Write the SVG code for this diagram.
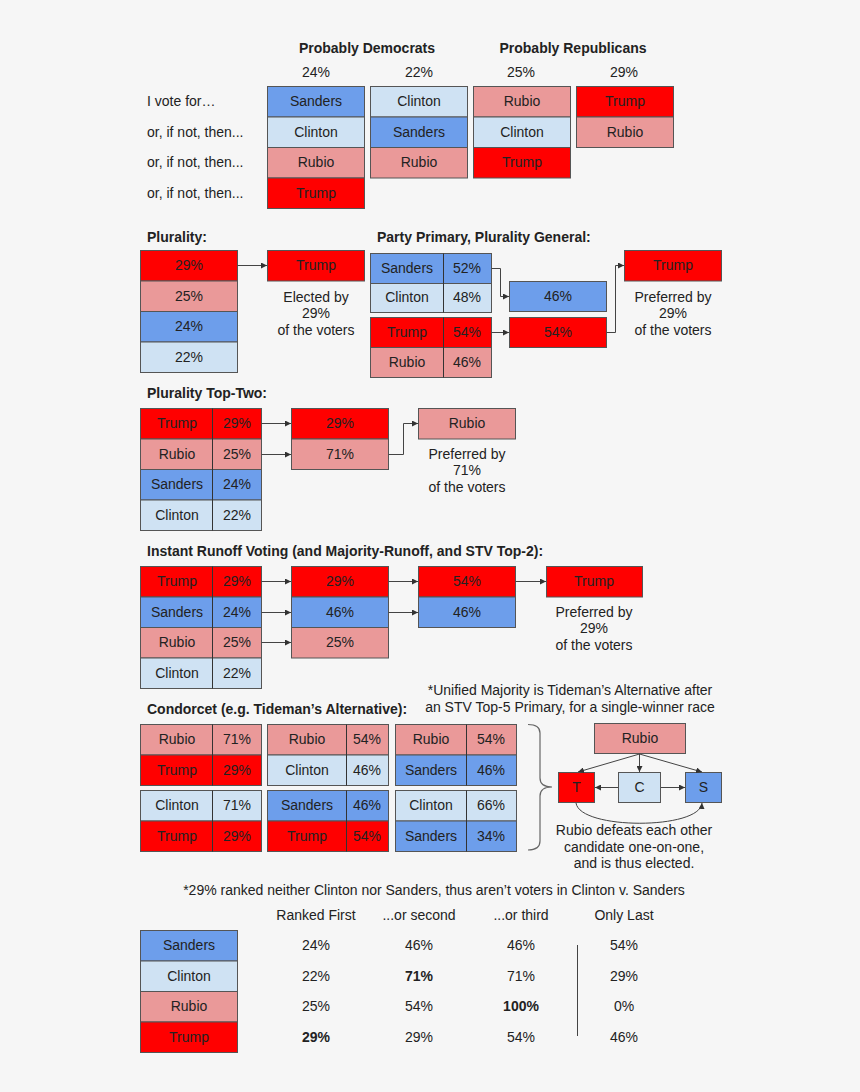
<svg xmlns="http://www.w3.org/2000/svg" width="860" height="1092" viewBox="0 0 860 1092">
<defs>
<marker id="ah" markerWidth="6" markerHeight="6" refX="6" refY="3" orient="auto" markerUnits="userSpaceOnUse"><path d="M0,0 L6,3 L0,6 z" fill="#333"/></marker>
<style>
text{font-family:"Liberation Sans",Arial,sans-serif;font-size:14px;fill:#222;}
.m{text-anchor:middle;}
.b{font-weight:bold;}
rect{stroke:#555;stroke-width:1;}
.S{fill:#6d9eeb;}
.C{fill:#cfe2f3;}
.R{fill:#ea9999;}
.T{fill:#ff0000;}
.dv{stroke:#333;stroke-width:1;}
.cn{fill:none;stroke:#444;stroke-width:1;marker-end:url(#ah);}
</style>
</defs>
<rect x="0" y="0" width="860" height="1092" fill="#f6f6f6" style="stroke:none"/>

<g id="ballots">
<text class="m b" x="367" y="53">Probably Democrats</text>
<text class="m b" x="573" y="53">Probably Republicans</text>
<text class="m" x="316" y="77">24%</text>
<text class="m" x="419" y="77">22%</text>
<text class="m" x="521" y="77">25%</text>
<text class="m" x="624" y="77">29%</text>
<text x="147" y="106">I vote for…</text>
<text x="147" y="137">or, if not, then...</text>
<text x="147" y="167">or, if not, then...</text>
<text x="147" y="198">or, if not, then...</text>
<g id="ballot1">
<rect class="S" x="267.5" y="86.5" width="97" height="30.5"/><text class="m" x="316" y="106">Sanders</text>
<rect class="C" x="267.5" y="117" width="97" height="30.5"/><text class="m" x="316" y="137">Clinton</text>
<rect class="R" x="267.5" y="147.5" width="97" height="30.5"/><text class="m" x="316" y="167">Rubio</text>
<rect class="T" x="267.5" y="178" width="97" height="30.5"/><text class="m" x="316" y="198">Trump</text>
</g>
<g id="ballot2">
<rect class="C" x="370.5" y="86.5" width="97" height="30.5"/><text class="m" x="419" y="106">Clinton</text>
<rect class="S" x="370.5" y="117" width="97" height="30.5"/><text class="m" x="419" y="137">Sanders</text>
<rect class="R" x="370.5" y="147.5" width="97" height="30.5"/><text class="m" x="419" y="167">Rubio</text>
</g>
<g id="ballot3">
<rect class="R" x="473.5" y="86.5" width="97" height="30.5"/><text class="m" x="522" y="106">Rubio</text>
<rect class="C" x="473.5" y="117" width="97" height="30.5"/><text class="m" x="522" y="137">Clinton</text>
<rect class="T" x="473.5" y="147.5" width="97" height="30.5"/><text class="m" x="522" y="167">Trump</text>
</g>
<g id="ballot4">
<rect class="T" x="576.5" y="86.5" width="97" height="30.5"/><text class="m" x="625" y="106">Trump</text>
<rect class="R" x="576.5" y="117" width="97" height="30.5"/><text class="m" x="625" y="137">Rubio</text>
</g>
</g>

<g id="plurality">
<text class="b" x="147" y="242">Plurality:</text>
<g id="pl-table">
<rect class="T" x="140.5" y="250.5" width="97" height="30.5"/><text class="m" x="189" y="270">29%</text>
<rect class="R" x="140.5" y="281" width="97" height="30.5"/><text class="m" x="189" y="301">25%</text>
<rect class="S" x="140.5" y="311.5" width="97" height="30.5"/><text class="m" x="189" y="331">24%</text>
<rect class="C" x="140.5" y="342" width="97" height="30.5"/><text class="m" x="189" y="362">22%</text>
</g>
<g id="pl-winner">
<rect class="T" x="267.5" y="250.5" width="97" height="30.5"/><text class="m" x="316" y="270">Trump</text>
<text class="m" x="316" y="302">Elected by</text>
<text class="m" x="316" y="318">29%</text>
<text class="m" x="316" y="335">of the voters</text>
</g>
</g>

<g id="primary">
<text class="b" x="377" y="242">Party Primary, Plurality General:</text>
<g id="pp-dem">
<rect class="S" x="370.5" y="253.5" width="121" height="30"/>
<rect class="C" x="370.5" y="283.5" width="121" height="29"/>
<line class="dv" x1="443.5" y1="253.5" x2="443.5" y2="312.5"/>
<text class="m" x="407" y="273">Sanders</text><text class="m" x="467" y="273">52%</text>
<text class="m" x="407" y="302">Clinton</text><text class="m" x="467" y="302">48%</text>
</g>
<g id="pp-rep">
<rect class="T" x="370.5" y="317.5" width="121" height="30"/>
<rect class="R" x="370.5" y="347.5" width="121" height="30"/>
<line class="dv" x1="443.5" y1="317.5" x2="443.5" y2="377.5"/>
<text class="m" x="407" y="337">Trump</text><text class="m" x="467" y="337">54%</text>
<text class="m" x="407" y="367">Rubio</text><text class="m" x="467" y="367">46%</text>
</g>
<g id="pp-gen-s">
<rect class="S" x="509.5" y="281.5" width="97" height="30"/><text class="m" x="558" y="301">46%</text>
</g>
<g id="pp-gen-t">
<rect class="T" x="509.5" y="317.5" width="97" height="30"/><text class="m" x="558" y="337">54%</text>
</g>
<g id="pp-winner">
<rect class="T" x="624.5" y="250.5" width="97" height="30.5"/><text class="m" x="673" y="270">Trump</text>
<text class="m" x="673" y="302">Preferred by</text>
<text class="m" x="673" y="318">29%</text>
<text class="m" x="673" y="335">of the voters</text>
</g>
</g>

<g id="toptwo">
<text class="b" x="147" y="398">Plurality Top-Two:</text>
<g id="tt-table">
<rect class="T" x="140.5" y="408.5" width="121" height="30.5"/>
<rect class="R" x="140.5" y="439" width="121" height="30.5"/>
<rect class="S" x="140.5" y="469.5" width="121" height="30.5"/>
<rect class="C" x="140.5" y="500" width="121" height="30.5"/>
<line class="dv" x1="212.5" y1="408.5" x2="212.5" y2="530.5"/>
<text class="m" x="177" y="428">Trump</text><text class="m" x="237" y="428">29%</text>
<text class="m" x="177" y="459">Rubio</text><text class="m" x="237" y="459">25%</text>
<text class="m" x="177" y="489">Sanders</text><text class="m" x="237" y="489">24%</text>
<text class="m" x="177" y="520">Clinton</text><text class="m" x="237" y="520">22%</text>
</g>
<g id="tt-round2">
<rect class="T" x="291.5" y="408.5" width="97" height="30.5"/><text class="m" x="340" y="428">29%</text>
<rect class="R" x="291.5" y="439" width="97" height="30.5"/><text class="m" x="340" y="459">71%</text>
</g>
<g id="tt-winner">
<rect class="R" x="418.5" y="408.5" width="97" height="30.5"/><text class="m" x="467" y="428">Rubio</text>
<text class="m" x="467" y="459">Preferred by</text>
<text class="m" x="467" y="475">71%</text>
<text class="m" x="467" y="492">of the voters</text>
</g>
</g>

<g id="irv">
<text class="b" x="147" y="556">Instant Runoff Voting (and Majority-Runoff, and STV Top-2):</text>
<g id="irv-table">
<rect class="T" x="140.5" y="566.5" width="121" height="30.5"/>
<rect class="S" x="140.5" y="597" width="121" height="30.5"/>
<rect class="R" x="140.5" y="627.5" width="121" height="30.5"/>
<rect class="C" x="140.5" y="658" width="121" height="30.5"/>
<line class="dv" x1="212.5" y1="566.5" x2="212.5" y2="688.5"/>
<text class="m" x="177" y="586">Trump</text><text class="m" x="237" y="586">29%</text>
<text class="m" x="177" y="617">Sanders</text><text class="m" x="237" y="617">24%</text>
<text class="m" x="177" y="647">Rubio</text><text class="m" x="237" y="647">25%</text>
<text class="m" x="177" y="678">Clinton</text><text class="m" x="237" y="678">22%</text>
</g>
<g id="irv-round2">
<rect class="T" x="291.5" y="566.5" width="97" height="30.5"/><text class="m" x="340" y="586">29%</text>
<rect class="S" x="291.5" y="597" width="97" height="30.5"/><text class="m" x="340" y="617">46%</text>
<rect class="R" x="291.5" y="627.5" width="97" height="30.5"/><text class="m" x="340" y="647">25%</text>
</g>
<g id="irv-round3">
<rect class="T" x="418.5" y="566.5" width="97" height="30.5"/><text class="m" x="467" y="586">54%</text>
<rect class="S" x="418.5" y="597" width="97" height="30.5"/><text class="m" x="467" y="617">46%</text>
</g>
<g id="irv-winner">
<rect class="T" x="546.5" y="566.5" width="96" height="30.5"/><text class="m" x="594" y="586">Trump</text>
<text class="m" x="594" y="617">Preferred by</text>
<text class="m" x="594" y="633">29%</text>
<text class="m" x="594" y="650">of the voters</text>
</g>
</g>

<g id="condorcet">
<text class="m" x="570" y="695">*Unified Majority is Tideman’s Alternative after</text>
<text class="m" x="570" y="712">an STV Top-5 Primary, for a single-winner race</text>
<text class="b" x="147" y="714">Condorcet (e.g. Tideman’s Alternative):</text>
<g id="cd-rt">
<rect class="R" x="140.5" y="724.5" width="121" height="30.5"/>
<rect class="T" x="140.5" y="755" width="121" height="30.5"/>
<line class="dv" x1="212.5" y1="724.5" x2="212.5" y2="785.5"/>
<text class="m" x="177" y="744">Rubio</text><text class="m" x="237" y="744">71%</text>
<text class="m" x="177" y="775">Trump</text><text class="m" x="237" y="775">29%</text>
</g>
<g id="cd-rc">
<rect class="R" x="267.5" y="724.5" width="121" height="30.5"/>
<rect class="C" x="267.5" y="755" width="121" height="30.5"/>
<line class="dv" x1="346.5" y1="724.5" x2="346.5" y2="785.5"/>
<text class="m" x="307" y="744">Rubio</text><text class="m" x="367" y="744">54%</text>
<text class="m" x="307" y="775">Clinton</text><text class="m" x="367" y="775">46%</text>
</g>
<g id="cd-rs">
<rect class="R" x="395.5" y="724.5" width="121" height="30.5"/>
<rect class="S" x="395.5" y="755" width="121" height="30.5"/>
<line class="dv" x1="466.5" y1="724.5" x2="466.5" y2="785.5"/>
<text class="m" x="431" y="744">Rubio</text><text class="m" x="491" y="744">54%</text>
<text class="m" x="431" y="775">Sanders</text><text class="m" x="491" y="775">46%</text>
</g>
<g id="cd-ct">
<rect class="C" x="140.5" y="790.5" width="121" height="30.5"/>
<rect class="T" x="140.5" y="821" width="121" height="30.5"/>
<line class="dv" x1="212.5" y1="790.5" x2="212.5" y2="851.5"/>
<text class="m" x="177" y="810">Clinton</text><text class="m" x="237" y="810">71%</text>
<text class="m" x="177" y="841">Trump</text><text class="m" x="237" y="841">29%</text>
</g>
<g id="cd-st">
<rect class="S" x="267.5" y="790.5" width="121" height="30.5"/>
<rect class="T" x="267.5" y="821" width="121" height="30.5"/>
<line class="dv" x1="346.5" y1="790.5" x2="346.5" y2="851.5"/>
<text class="m" x="307" y="810">Sanders</text><text class="m" x="367" y="810">46%</text>
<text class="m" x="307" y="841">Trump</text><text class="m" x="367" y="841">54%</text>
</g>
<g id="cd-cs">
<rect class="C" x="395.5" y="790.5" width="121" height="30.5"/>
<rect class="S" x="395.5" y="821" width="121" height="30.5"/>
<line class="dv" x1="466.5" y1="790.5" x2="466.5" y2="851.5"/>
<text class="m" x="431" y="810">Clinton</text><text class="m" x="491" y="810">66%</text>
<text class="m" x="431" y="841">Sanders</text><text class="m" x="491" y="841">34%</text>
</g>
<path id="brace" d="M528,724.5 Q540,724.5 540,733 L540,778 Q540,787 552,787 Q540,787 540,796 L540,841 Q540,850 528,850" fill="none" stroke="#666" stroke-width="1.2"/>
<g id="cg-rubio"><rect class="R" x="594.5" y="723.5" width="91" height="30"/><text class="m" x="640" y="743">Rubio</text></g>
<g id="cg-t"><rect class="T" x="558.5" y="772.5" width="36" height="30"/><text class="m" x="576.5" y="792">T</text></g>
<g id="cg-c"><rect class="C" x="618.5" y="772.5" width="42" height="30"/><text class="m" x="639.5" y="792">C</text></g>
<g id="cg-s"><rect class="S" x="685.5" y="772.5" width="36" height="30"/><text class="m" x="703.5" y="792">S</text></g>
<text class="m" x="634" y="835">Rubio defeats each other</text>
<text class="m" x="634" y="852">candidate one-on-one,</text>
<text class="m" x="634" y="868">and is thus elected.</text>
</g>

<g id="summary">
<text class="m" x="434" y="895">*29% ranked neither Clinton nor Sanders, thus aren’t voters in Clinton v. Sanders</text>
<text class="m" x="316" y="920">Ranked First</text>
<text class="m" x="419" y="920">...or second</text>
<text class="m" x="521" y="920">...or third</text>
<text class="m" x="624" y="920">Only Last</text>
<g id="sum-table">
<rect class="S" x="140.5" y="930.5" width="97" height="30.5"/><text class="m" x="189" y="950">Sanders</text>
<rect class="C" x="140.5" y="961" width="97" height="30.5"/><text class="m" x="189" y="981">Clinton</text>
<rect class="R" x="140.5" y="991.5" width="97" height="30.5"/><text class="m" x="189" y="1011">Rubio</text>
<rect class="T" x="140.5" y="1022" width="97" height="30.5"/><text class="m" x="189" y="1042">Trump</text>
</g>
<text class="m" x="316" y="950">24%</text><text class="m" x="419" y="950">46%</text><text class="m" x="521" y="950">46%</text><text class="m" x="624" y="950">54%</text>
<text class="m" x="316" y="981">22%</text><text class="m b" x="419" y="981">71%</text><text class="m" x="521" y="981">71%</text><text class="m" x="624" y="981">29%</text>
<text class="m" x="316" y="1011">25%</text><text class="m" x="419" y="1011">54%</text><text class="m b" x="521" y="1011">100%</text><text class="m" x="624" y="1011">0%</text>
<text class="m b" x="316" y="1042">29%</text><text class="m" x="419" y="1042">29%</text><text class="m" x="521" y="1042">54%</text><text class="m" x="624" y="1042">46%</text>
<line x1="577.5" y1="945" x2="577.5" y2="1036" stroke="#444" stroke-width="1"/>
</g>

<g id="connectors">
<path class="cn" d="M237.5,265.5 H267"/>
<path class="cn" d="M491.5,268.5 H500.5 V296.5 H509"/>
<path class="cn" d="M491.5,332.5 H509"/>
<path class="cn" d="M606.5,332.5 H615.5 V265.5 H624"/>
<path class="cn" d="M261.5,423.5 H291"/>
<path class="cn" d="M261.5,454.5 H291"/>
<path class="cn" d="M388.5,454.5 H403.5 V423.5 H418"/>
<path class="cn" d="M261.5,581.5 H291"/>
<path class="cn" d="M261.5,612.5 H291"/>
<path class="cn" d="M261.5,642.5 H291"/>
<path class="cn" d="M388.5,581.5 H418"/>
<path class="cn" d="M388.5,612.5 H418"/>
<path class="cn" d="M515.5,581.5 H546"/>
<path class="cn" d="M639.5,754 L578,772"/>
<path class="cn" d="M639.5,754 V772"/>
<path class="cn" d="M639.5,754 L702,772"/>
<path class="cn" d="M618,787.5 H595"/>
<path class="cn" d="M661,787.5 H685"/>
<path class="cn" d="M576,803 C580,830 700,830 702,803"/>
</g>
</svg>
